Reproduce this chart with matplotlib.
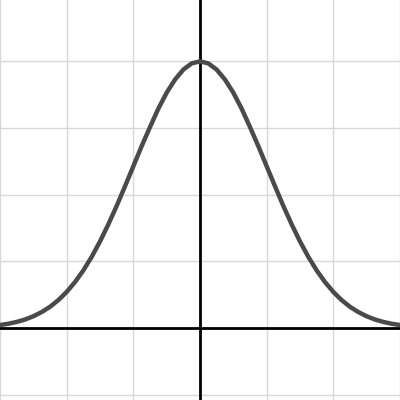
import matplotlib
matplotlib.use("Agg")
import matplotlib.pyplot as plt

# values (right half), mirrored for the left side
x_half = [0.125, 0.25, 0.375, 0.5, 0.625, 0.75, 0.875, 1, 1.125, 1.25, 1.375, 1.5,
          1.625, 1.75, 1.875, 2, 2.125, 2.25, 2.375, 2.5, 2.625, 2.75, 2.875, 3]
y_half = [3.969, 3.876, 3.726, 3.530, 3.290, 3.014, 2.728, 2.426, 2.126, 1.831, 1.555, 1.298,
          1.067, 0.864, 0.689, 0.541, 0.418, 0.318, 0.239, 0.176, 0.127, 0.091, 0.064, 0.044]
x_vals = [-v for v in x_half[::-1]] + [0] + x_half
y_vals = y_half[::-1] + [4.0] + y_half

fig = plt.figure(figsize=(4, 4), dpi=100)
ax = fig.add_axes([0, 0, 1, 1])
ax.set_xlim(-3, 3)
ax.set_ylim(-1.08, 4.92)

for g in range(-3, 4):
    ax.axvline(g, color="#d8d8d8", lw=1, zorder=0)
for g in range(-1, 5):
    ax.axhline(g, color="#d8d8d8", lw=1, zorder=0)
ax.axhline(0, color="black", lw=2, zorder=1)
ax.axvline(0, color="black", lw=2, zorder=1)

ax.plot(x_vals, y_vals, color="#4a4a4a", lw=3.2, solid_joinstyle="round", zorder=2)

ax.set_xticks([])
ax.set_yticks([])
for s in ax.spines.values():
    s.set_visible(False)

fig.savefig("out.png", dpi=100)
